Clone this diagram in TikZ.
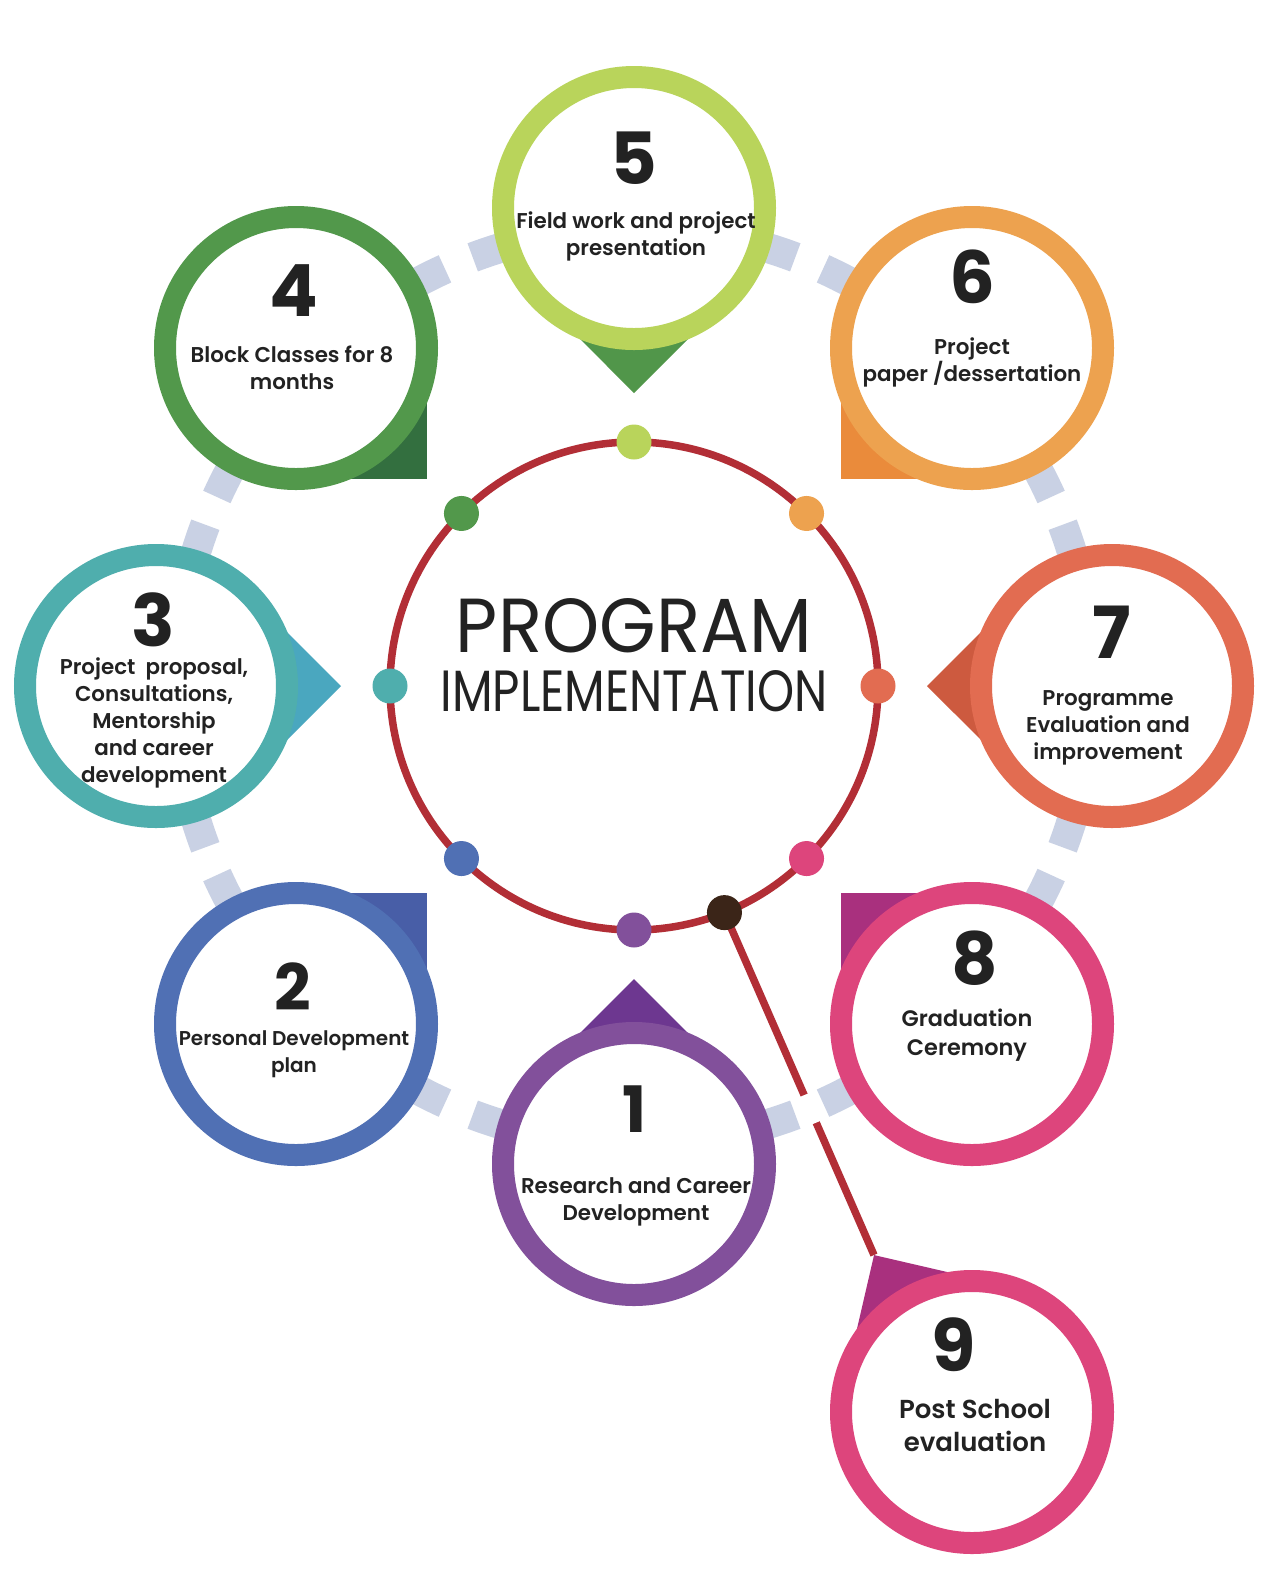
\documentclass[tikz,border=0pt]{standalone}
\usepackage{graphicx}
\usepackage{fontspec}
\setmainfont{Poppins}
\newfontfamily\lblfont{Poppins SemiBold}
\usetikzlibrary{calc}
\pgfdeclarelayer{bg}
\pgfsetlayers{bg,main}
\definecolor{ink}{HTML}{222222}
\definecolor{cLime}{HTML}{B9D45B}
\definecolor{cGreen}{HTML}{52984B}
\definecolor{cGreenP}{HTML}{51964A}
\definecolor{cGreenD}{HTML}{336F3F}
\definecolor{cOrange}{HTML}{EDA24F}
\definecolor{cOrangeD}{HTML}{EA8B3B}
\definecolor{cCoral}{HTML}{E26C51}
\definecolor{cCoralD}{HTML}{CD5A3F}
\definecolor{cPink}{HTML}{DD457C}
\definecolor{cPinkD}{HTML}{A9307E}
\definecolor{cPurple}{HTML}{82509B}
\definecolor{cPurpleD}{HTML}{6D3790}
\definecolor{cBlue}{HTML}{5070B4}
\definecolor{cBlueD}{HTML}{485EA7}
\definecolor{cTeal}{HTML}{4FAEAD}
\definecolor{cTealD}{HTML}{4AA7BF}
\definecolor{cOrbit}{HTML}{C9D1E4}
\definecolor{cRed}{HTML}{B22E36}
\definecolor{cDark}{HTML}{3B2518}
\begin{document}
\begin{tikzpicture}[x=0.5pt,y=0.5pt,
  ring/.style={circle, draw=#1, fill=white, line width=11pt, minimum size=131pt, inner sep=0pt, outer sep=0pt},
  core/.style={circle, draw=cRed, line width=3.75pt, minimum size=244pt, inner sep=0pt, outer sep=0pt},
  dot/.style={circle, fill=#1, minimum size=17.5pt, inner sep=0pt, outer sep=0pt},
  num/.style={font=\fontsize{36}{36}\selectfont\bfseries, text=ink, inner sep=0pt},
  smallnum/.style={font=\fontsize{32}{32}\selectfont\bfseries, text=ink, inner sep=0pt},
  lbl/.style={font=\lblfont\fontsize{10.7}{13.5}\selectfont, text=ink, align=center, inner sep=0pt},
  smalllbl/.style={font=\lblfont\fontsize{10}{13.5}\selectfont, text=ink, align=center, inner sep=0pt},
  midlbl/.style={font=\lblfont\fontsize{11.2}{14.6}\selectfont, text=ink, align=center, inner sep=0pt},
  biglbl/.style={font=\lblfont\fontsize{13}{16.5}\selectfont, text=ink, align=center, inner sep=0pt},
  orbit/.style={draw=cOrbit, line width=15pt},
  title/.style={text=ink, inner sep=0pt}
]
\useasboundingbox (0,0) rectangle (1264,-1592);
\coordinate (C) at (634,-686);
\node[core] (core) at (C) {};
% outer circles
\node[ring=cLime]   (c5) at (634,-208) {};
\node[ring=cOrange] (c6) at (972,-348) {};
\node[ring=cCoral]  (c7) at (1112,-686) {};
\node[ring=cPink]   (c8) at (972,-1024) {};
\node[ring=cPurple] (c1) at (634,-1164) {};
\node[ring=cBlue]   (c2) at (296,-1024) {};
\node[ring=cTeal]   (c3) at (156,-686) {};
\node[ring=cGreen]  (c4) at (296,-348) {};
\node[ring=cPink]   (c9) at (972,-1412) {};
\coordinate (p9) at (874,-1255);
% dots on the central ring
\node[dot=cLime]   (d5) at ($(C)+(90:122pt)$) {};
\node[dot=cOrange] (d6) at ($(C)+(45:122pt)$) {};
\node[dot=cCoral]  (d7) at ($(C)+(0:122pt)$) {};
\node[dot=cPink]   (d8) at ($(C)+(-45:122pt)$) {};
\node[dot=cPurple] (d1) at ($(C)+(-90:122pt)$) {};
\node[dot=cBlue]   (d2) at ($(C)+(-135:122pt)$) {};
\node[dot=cTeal]   (d3) at ($(C)+(180:122pt)$) {};
\node[dot=cGreen]  (d4) at ($(C)+(135:122pt)$) {};
\node[dot=cDark]   (d9) at ($(C)+(-68.24:122pt)$) {};
% centre title
\node[title] (t1) at (634,-626) {\resizebox{178pt}{27pt}{PROGRAM}};
\node[title] (t2) at (634,-691) {\resizebox{193.5pt}{20.5pt}{IMPLEMENTATION}};
% numbers
\node[num] (n5) at (634,-158) {5};
\node[num] (n4) at (294,-291) {4};
\node[num] (n6) at (972,-277) {6};
\node[num] (n3) at (153,-620) {3};
\node[num] (n7) at (1112,-632) {7};
\node[smallnum] (n2) at (293,-987) {2};
\node[num] (n8) at (975,-958) {8};
\node[smallnum] (n1) at (635,-1109) {1};
\node[num] (n9) at (954,-1345) {9};
% labels
\node[lbl] (l5) at (636,-236.5) {Field work and project\\presentation};
\node[lbl] (l4) at (292,-368) {Block Classes for 8\\months};
\node[lbl] (l6) at (972,-362.5) {Project\\paper /dessertation};
\node[lbl] (l3) at (154,-722.5) {Project\ \ proposal,\\Consultations,\\Mentorship\\and career\\development};
\node[lbl] (l7) at (1108,-727.5) {Programme\\Evaluation and\\improvement};
\node[smalllbl] (l2) at (294,-1054.5) {Personal Development\\plan};
\node[midlbl] (l8) at (967,-1035) {Graduation\\Ceremony};
\node[lbl] (l1) at (636,-1201.5) {Research and Career\\Development};
\node[biglbl] (l9) at (975,-1425.5) {Post School\\evaluation};
\begin{pgfonlayer}{bg}
  \fill[white] (0,0) rectangle (1264,-1592);
  \draw[cRed, line width=3.75pt] (d9.center) -- (p9);
  \draw[white, line width=15pt] (C) circle[radius=229pt];
  \foreach \k in {0,...,7} {
    \draw[orbit] ($(C)+(45*\k+4:229pt)$) arc[start angle=45*\k+4, end angle=45*\k+20.62, radius=229pt];
    \draw[orbit] ($(C)+(45*\k+24.38:229pt)$) arc[start angle=45*\k+24.38, end angle=45*\k+41, radius=229pt];
  }
  \foreach \c/\col in {c5/cGreenP, c4/cGreenD, c6/cOrangeD, c7/cCoralD, c8/cPinkD, c1/cPurpleD, c2/cBlueD, c3/cTealD} {
    \fill[\col] ($(\c.center)!92.5pt!(C)$) -- ($(\c.center)!65.4pt!45:(C)$) -- ($(\c.center)!65.4pt!-45:(C)$) -- cycle;
  }
  \fill[cPinkD] ($(c9.center)!92.5pt!(p9)$) -- ($(c9.center)!65.4pt!45:(p9)$) -- ($(c9.center)!65.4pt!-45:(p9)$) -- cycle;
\end{pgfonlayer}
\end{tikzpicture}
\end{document}
